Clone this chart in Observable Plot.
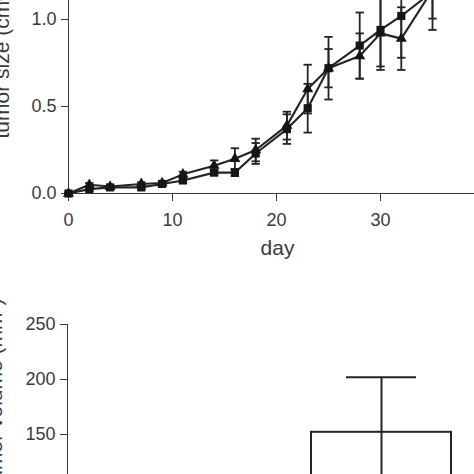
<!DOCTYPE html>
<html>
<head>
<meta charset="utf-8">
<script src="https://cdn.jsdelivr.net/npm/d3@7"></script>
<script src="https://cdn.jsdelivr.net/npm/@observablehq/plot@0.6"></script>
<style>
  html, body { margin: 0; padding: 0; background: #fff; overflow: hidden; }
  #chart svg { display: block; }
</style>
</head>
<body>
<div id="chart"></div>
<script>
// ---- Data ----
const days = [0, 2, 4, 7, 9, 11, 14, 16, 18, 21, 23, 25, 28, 30, 32, 35];
const squareMean   = [0.00, 0.025, 0.035, 0.035, 0.055, 0.075, 0.12, 0.12, 0.23, 0.37, 0.49, 0.72, 0.85, 0.94, 1.02, 1.16];
const squareSE     = [0.005, 0.01, 0.01, 0.01, 0.01, 0.01, 0.015, 0.02, 0.06, 0.085, 0.14, 0.11, 0.19, 0.21, 0.24, 0.155];
const triangleMean = [0.00, 0.05, 0.04, 0.055, 0.06, 0.11, 0.16, 0.20, 0.25, 0.39, 0.60, 0.72, 0.79, 0.92, 0.89, 1.17];
const triangleSE   = [0.005, 0.01, 0.01, 0.01, 0.01, 0.015, 0.03, 0.06, 0.065, 0.08, 0.14, 0.18, 0.13, 0.21, 0.18, 0.23];
const xTicks = [0, 10, 20, 30];
const yTicks = [0, 0.5, 1.0];
const xLabel = "day";
const yLabel = "tumor size (cm³)";

const barCategories = ["control", "treated"];
const barGroups = ["treated"];
const barValues = [152];
const barSE = [50];
const barTicks = [150, 200, 250];
const barYLabel = "tumor volume (mm³)";

// ---- Build tables ----
const series = [
  ...days.map((d, i) => ({day: d, v: squareMean[i], se: squareSE[i], s: "square"})),
  ...days.map((d, i) => ({day: d, v: triangleMean[i], se: triangleSE[i], s: "triangle"}))
];
const bars = barGroups.map((g, i) => ({group: g, v: barValues[i], se: barSE[i]}));

const ink = "#242424";
const textColor = "#3a3a3a";
const font = "'Liberation Sans', Arial, Helvetica, sans-serif";

const cap = { draw(ctx) { ctx.moveTo(-4.2, 0); ctx.lineTo(4.2, 0); } };

const growthChart = Plot.plot({
  width: 474, height: 290,
  marginLeft: 68, marginRight: 0, marginTop: 0, marginBottom: 97,
  style: {fontSize: "18px", fontFamily: font, color: textColor, background: "white"},
  x: {domain: [0, 406 / 10.4], ticks: xTicks, tickSize: 8, tickPadding: 12, line: true, label: null},
  y: {domain: [0, 1.109], ticks: yTicks, tickFormat: ".1f", tickSize: 7, tickPadding: 5, line: true, label: null},
  marks: [
    Plot.line(series, {x: "day", y: "v", z: "s", stroke: ink, strokeWidth: 2.1}),
    Plot.ruleX(series, {x: "day", y1: d => d.v - d.se, y2: d => d.v + d.se, stroke: ink, strokeWidth: 1.8}),
    Plot.dot(series, {x: "day", y: d => d.v + d.se, symbol: cap, stroke: ink, strokeWidth: 1.8, fill: "none"}),
    Plot.dot(series, {x: "day", y: d => d.v - d.se, symbol: cap, stroke: ink, strokeWidth: 1.8, fill: "none"}),
    Plot.dot(series.filter(d => d.s === "square"), {x: "day", y: "v", symbol: "square", r: 4.6, fill: "#151515", stroke: "none"}),
    Plot.dot(series.filter(d => d.s === "triangle"), {x: "day", y: "v", symbol: "triangle", r: 4.1, fill: "#151515", stroke: "none"}),
    Plot.text([xLabel], {frameAnchor: "bottom", dx: 6, dy: 61, fontSize: 21, fill: textColor}),
    Plot.text([yLabel], {frameAnchor: "left", rotate: -90, textAnchor: "start", lineAnchor: "bottom", dx: -60, dy: 41.5, fontSize: 21, fill: textColor})
  ]
});

const barChart = Plot.plot({
  width: 474, height: 184,
  marginLeft: 67, marginRight: 0, marginTop: 34, marginBottom: 0,
  style: {fontSize: "18px", fontFamily: font, color: textColor, background: "white"},
  x: {domain: barCategories, range: [67, 495], paddingInner: 0.3, paddingOuter: 0.22, axis: null},
  y: {domain: [250 - 150 / 1.1, 250], ticks: barTicks, tickSize: 7, tickPadding: 5, line: true, label: null},
  marks: [
    Plot.barY(bars, {x: "group", y: "v", fill: "white", stroke: ink, strokeWidth: 2}),
    Plot.ruleX(bars, {x: "group", y1: d => d.v - d.se, y2: d => d.v + d.se, stroke: ink, strokeWidth: 2}),
    Plot.tickY(bars, {x: "group", y: d => d.v + d.se, insetLeft: 35, insetRight: 35, stroke: ink, strokeWidth: 2}),
    Plot.text([barYLabel], {frameAnchor: "left", rotate: -90, textAnchor: "end", lineAnchor: "bottom", dx: -66, dy: -101, fontSize: 21, fill: textColor})
  ]
});

const el = document.getElementById("chart");
el.appendChild(growthChart);
el.appendChild(barChart);
</script>
</body>
</html>
